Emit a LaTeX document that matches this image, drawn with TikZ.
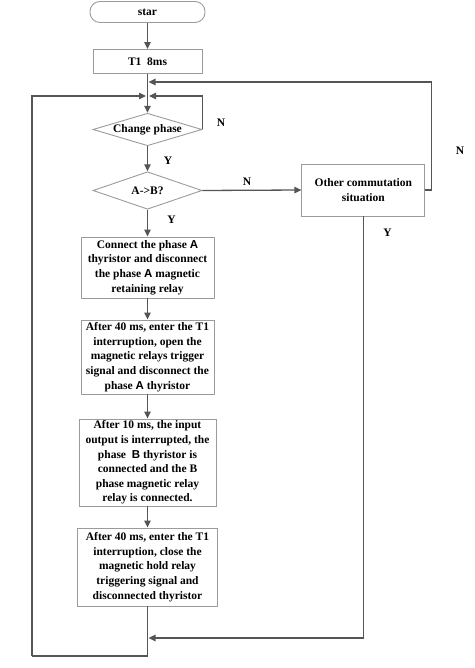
\documentclass[tikz,border=0pt]{standalone}
\usepackage{fontspec}
\setmainfont{Liberation Serif}
\newfontfamily\sanslet{Liberation Sans}
\usetikzlibrary{shapes.geometric,arrows.meta}

\definecolor{lineColor}{RGB}{85,85,85}
\definecolor{boxColor}{RGB}{155,155,155}

\tikzset{
  txt/.style={font=\fontsize{11.5}{14.6}\selectfont\bfseries, text=black},
  procbox/.style={txt, draw=boxColor, line width=0.9pt, align=center, inner sep=0pt},
  decide/.style={txt, draw=boxColor, line width=0.9pt, shape=diamond, aspect=3.4, inner sep=0pt, minimum width=109pt},
  flow/.style={draw=lineColor, line width=1.3pt, -{Triangle[length=7pt,width=6.5pt]}},
  wire/.style={draw=lineColor, line width=1.3pt}
}

\begin{document}
\begin{tikzpicture}[x=1pt,y=-1pt]
  \useasboundingbox (0,0) rectangle (474,668);
  % Steps
  \node[procbox, rounded corners=10pt, minimum width=115pt, minimum height=21pt] (star) at (147.5,12) {star};
  \node[procbox, minimum width=109pt, minimum height=24pt] (t1) at (147.5,61.5) {T1\ \ 8ms};
  \node[decide, minimum height=32.5pt] (change) at (147.5,129.5) {Change phase};
  \node[decide, minimum height=37.5pt] (ab) at (147.5,190.5) {A->B?};
  \node[procbox, minimum width=123pt, minimum height=52pt] (other) at (363.3,190) {Other commutation\\situation};
  \node[procbox, minimum width=133pt, minimum height=61pt] (conn) at (147.5,267.5)
    {Connect the phase {\sanslet A}\\thyristor and disconnect\\the phase {\sanslet A} magnetic\\retaining relay};
  \node[procbox, minimum width=133pt, minimum height=74pt] (open) at (147.5,357)
    {After 40 ms, enter the T1\\interruption, open the\\magnetic relays trigger\\signal and disconnect the\\phase {\sanslet A} thyristor};
  \node[procbox, minimum width=137pt, minimum height=87pt] (interr) at (147.5,462.5)
    {After 10 ms, the input\\output is interrupted, the\\phase\ \ {\sanslet B} thyristor is\\connected and the B\\phase magnetic relay\\relay is connected.};
  \node[procbox, minimum width=140pt, minimum height=78pt] (close) at (147.5,567)
    {After 40 ms, enter the T1\\interruption, close the\\magnetic hold relay\\triggering signal and\\disconnected thyristor};
  % Junctions
  \coordinate (retTop) at (148.5,82);
  \coordinate (joinR) at (149,96);
  \coordinate (joinL) at (146,96);
  \coordinate (retBot) at (148.5,638);
  \coordinate (loopBot) at (147.5,656);
  \coordinate (loopLeft) at (32,656);
  % Main line
  \draw[flow] (star) -- (t1);
  \draw[flow] (t1) -- (change);
  \draw[flow] (change) -- (ab);
  \draw[flow] (ab) -- (conn);
  \draw[flow] (conn) -- (open);
  \draw[flow] (open) -- (interr);
  \draw[flow] (interr) -- (close);
  \draw[flow] (ab.east) -- (other.west);
  % Loops
  \draw[flow] (change.east) -- ++(0,0) |- (joinR);
  \draw[flow] (other.east) -- ++(6.5,0) |- (retTop);
  \draw[flow] (other.south) |- (retBot);
  \draw[wire] (close.south) -- (loopBot) -- (loopLeft);
  \draw[flow] (loopLeft) |- (joinL);
  % Labels
  \node[txt] (nChange) at (221,123) {N};
  \node[txt] (yChange) at (168,161) {Y};
  \node[txt] (nAB) at (247,182) {N};
  \node[txt] (yAB) at (171.5,219.5) {Y};
  \node[txt] (nOther) at (460,151) {N};
  \node[txt] (yOther) at (387.5,232.5) {Y};
\end{tikzpicture}
\end{document}
